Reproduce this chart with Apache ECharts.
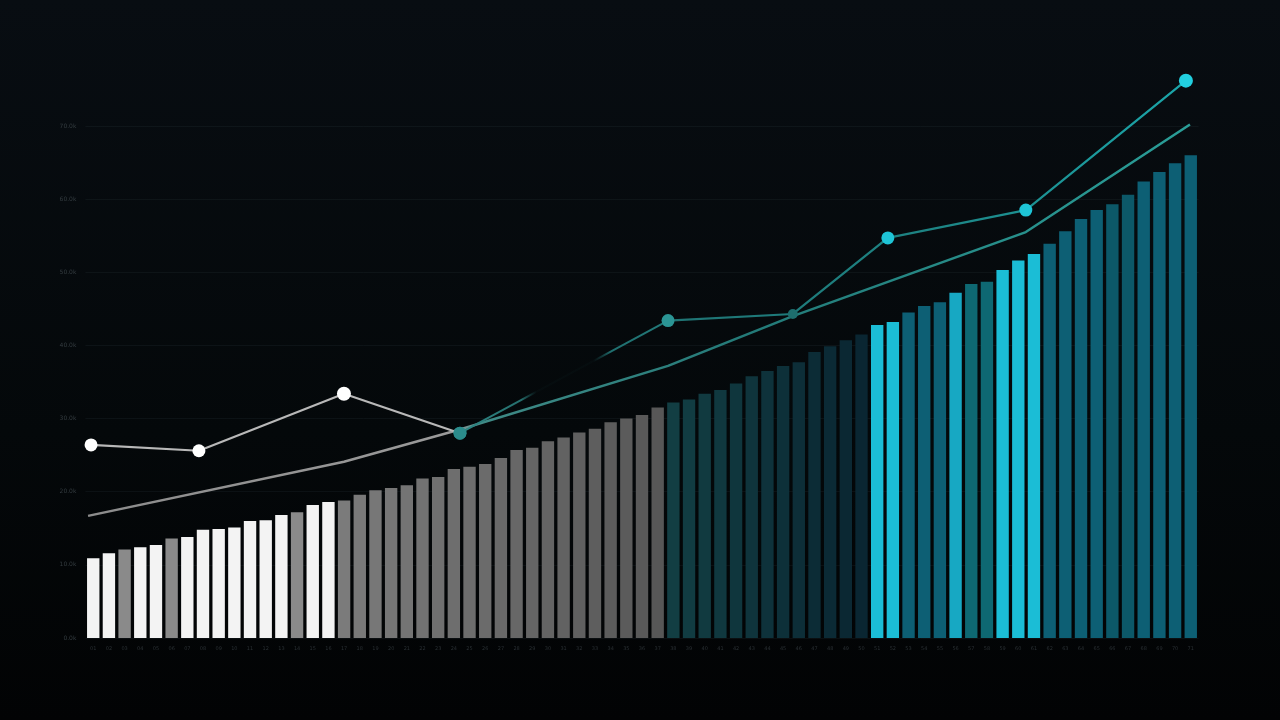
<!DOCTYPE html>
<html>
<head>
<meta charset="utf-8">
<style>html,body{margin:0;padding:0;background:#05080b;}#c{width:1280px;height:720px;}</style>
<script src="https://cdn.jsdelivr.net/npm/echarts@6/dist/echarts.min.js"></script>
</head>
<body>
<div id="c"></div>
<script>
const categories = ['01','02','03','04','05','06','07','08','09','10','11','12','13','14','15','16','17','18','19','20','21','22','23','24','25','26','27','28','29','30','31','32','33','34','35','36','37','38','39','40','41','42','43','44','45','46','47','48','49','50','51','52','53','54','55','56','57','58','59','60','61','62','63','64','65','66','67','68','69','70','71'];
const barValues = [10.9,11.6,12.1,12.4,12.7,13.6,13.8,14.8,14.9,15.1,16.0,16.1,16.8,17.2,18.2,18.6,18.8,19.6,20.2,20.5,20.9,21.8,22.0,23.1,23.4,23.8,24.6,25.7,26.0,26.9,27.4,28.1,28.6,29.5,30.0,30.5,31.5,32.2,32.6,33.4,33.9,34.8,35.8,36.5,37.2,37.7,39.1,39.9,40.7,41.5,42.8,43.2,44.5,45.4,45.9,47.2,48.4,48.7,50.3,51.6,52.5,53.9,55.6,57.3,58.5,59.3,60.6,62.4,63.7,64.9,66.0];
const markerLineX = [0.36,7.24,16.49,23.89,37.16,45.12,51.18,59.98,70.19];
const markerLineY = [26.4,25.6,33.4,28.0,43.4,44.3,54.7,58.5,76.2];
const trendLineX = [0.17,16.49,23.89,37.16,45.12,59.98,70.45];
const trendLineY = [16.7,24.1,28.5,37.2,44.0,55.5,70.2];
const yTicks = [0,10,20,30,40,50,60,70];

// styles
const whiteBars = [1,2,4,5,7,8,9,10,11,12,13,15,16];
const midGrayBars = [3,6,14];
const brightBars = [51,52,59,60,61];
const lightCyanBars = [56];
const markerColors = ['#ffffff','#ffffff','#ffffff','#2b8c8c','#2b9595','#1e6e6e','#1ec4d6','#1ec4d6','#22d0e0'];
const markerSizes = [13,13,14,13,13,10,13,13,14];

function lerp(a,b,t){
  const pa=[1,3,5].map(i=>parseInt(a.substr(i,2),16));
  const pb=[1,3,5].map(i=>parseInt(b.substr(i,2),16));
  return 'rgb('+pa.map((v,k)=>Math.round(v+(pb[k]-v)*t)).join(',')+')';
}
function barColor(idx){
  const i = idx+1;
  if (whiteBars.includes(i)) return '#f3f3f3';
  if (midGrayBars.includes(i)) return '#8a8a8a';
  if (i>=17 && i<=37) return lerp('#7b7b7b','#575757',(i-17)/20);
  if (i>=38 && i<=50) return lerp('#123e43','#0a2632',(i-38)/12);
  if (brightBars.includes(i)) return '#1bbdd6';
  if (lightCyanBars.includes(i)) return '#17a8c3';
  if (i===57||i===58) return '#0e6872';
  if (i===66||i===67) return '#0c5868';
  return '#0d5f74';
}
const markerPts = markerLineX.map((x,i)=>[x,markerLineY[i]]);
const hGrad = stops => ({type:'linear',x:0,y:0,x2:1,y2:0,colorStops:stops});

const chart = echarts.init(document.getElementById('c'));
chart.setOption({
  backgroundColor: {type:'linear',x:0,y:0,x2:0,y2:1,colorStops:[{offset:0,color:'#080d12'},{offset:0.6,color:'#04080a'},{offset:1,color:'#020304'}]},
  animation:false,
  grid:{left:85.4,right:81.4,top:126,bottom:82,containLabel:false},
  xAxis:[
    {type:'category',data:categories,boundaryGap:true,
     axisLine:{show:false},axisTick:{show:false},
     axisLabel:{interval:0,fontSize:5,color:'#2a3034',margin:8,fontFamily:'DejaVu Sans'}},
    {type:'value',min:0,max:71,show:false}
  ],
  yAxis:{type:'value',min:0,max:70,interval:10,
    axisLine:{show:false},axisTick:{show:false},
    splitLine:{lineStyle:{color:'rgba(120,140,150,0.08)',width:1}},
    axisLabel:{fontSize:6,color:'#343c40',margin:9,fontFamily:'DejaVu Sans',
      formatter:v=>yTicks.includes(v)?v.toFixed(1)+'k':''}},
  series:[
    {type:'bar',xAxisIndex:0,data:barValues,barCategoryGap:'21%',
     itemStyle:{color:p=>barColor(p.dataIndex)}},
    {type:'line',xAxisIndex:1,clip:false,symbol:'none',
     data:trendLineX.map((x,i)=>[x,trendLineY[i]]),
     lineStyle:{width:2.5,color:hGrad([
       {offset:0,color:'#8c8c8c'},{offset:0.33,color:'#9a9a9a'},{offset:0.36,color:'#3f8a86'},
       {offset:0.6,color:'#237a78'},{offset:1,color:'#2a9e98'}])}},
    // connecting segment (fades in the middle)
    {type:'line',xAxisIndex:1,clip:false,symbol:'none',
     data:markerPts.slice(3,5),
     lineStyle:{width:2,color:hGrad([
       {offset:0,color:'#2f8a88'},{offset:0.3,color:'#256f6d'},{offset:0.37,color:'rgba(30,90,90,0.05)'},
       {offset:0.64,color:'rgba(30,90,90,0.05)'},{offset:0.72,color:'#1f6f6f'},{offset:1,color:'#227a7a'}])}},
    // white part
    {type:'line',xAxisIndex:1,clip:false,symbol:'circle',
     data:markerPts.slice(0,4).map((p,i)=>({value:p,symbolSize:markerSizes[i],itemStyle:{color:markerColors[i]}})),
     lineStyle:{width:2.2,color:'#b8b8b8'}},
    // teal part
    {type:'line',xAxisIndex:1,clip:false,symbol:'circle',
     data:markerPts.slice(4).map((p,k)=>({value:p,symbolSize:markerSizes[k+4],itemStyle:{color:markerColors[k+4]}})),
     lineStyle:{width:2.2,color:hGrad([{offset:0,color:'#1f7373'},{offset:0.5,color:'#1d8484'},{offset:1,color:'#1ba6aa'}])}},
    // marker at junction on top
    {type:'scatter',xAxisIndex:1,clip:false,
     data:[markerPts[3]],symbolSize:markerSizes[3],itemStyle:{color:markerColors[3]}}
  ]
});
</script>
</body>
</html>
